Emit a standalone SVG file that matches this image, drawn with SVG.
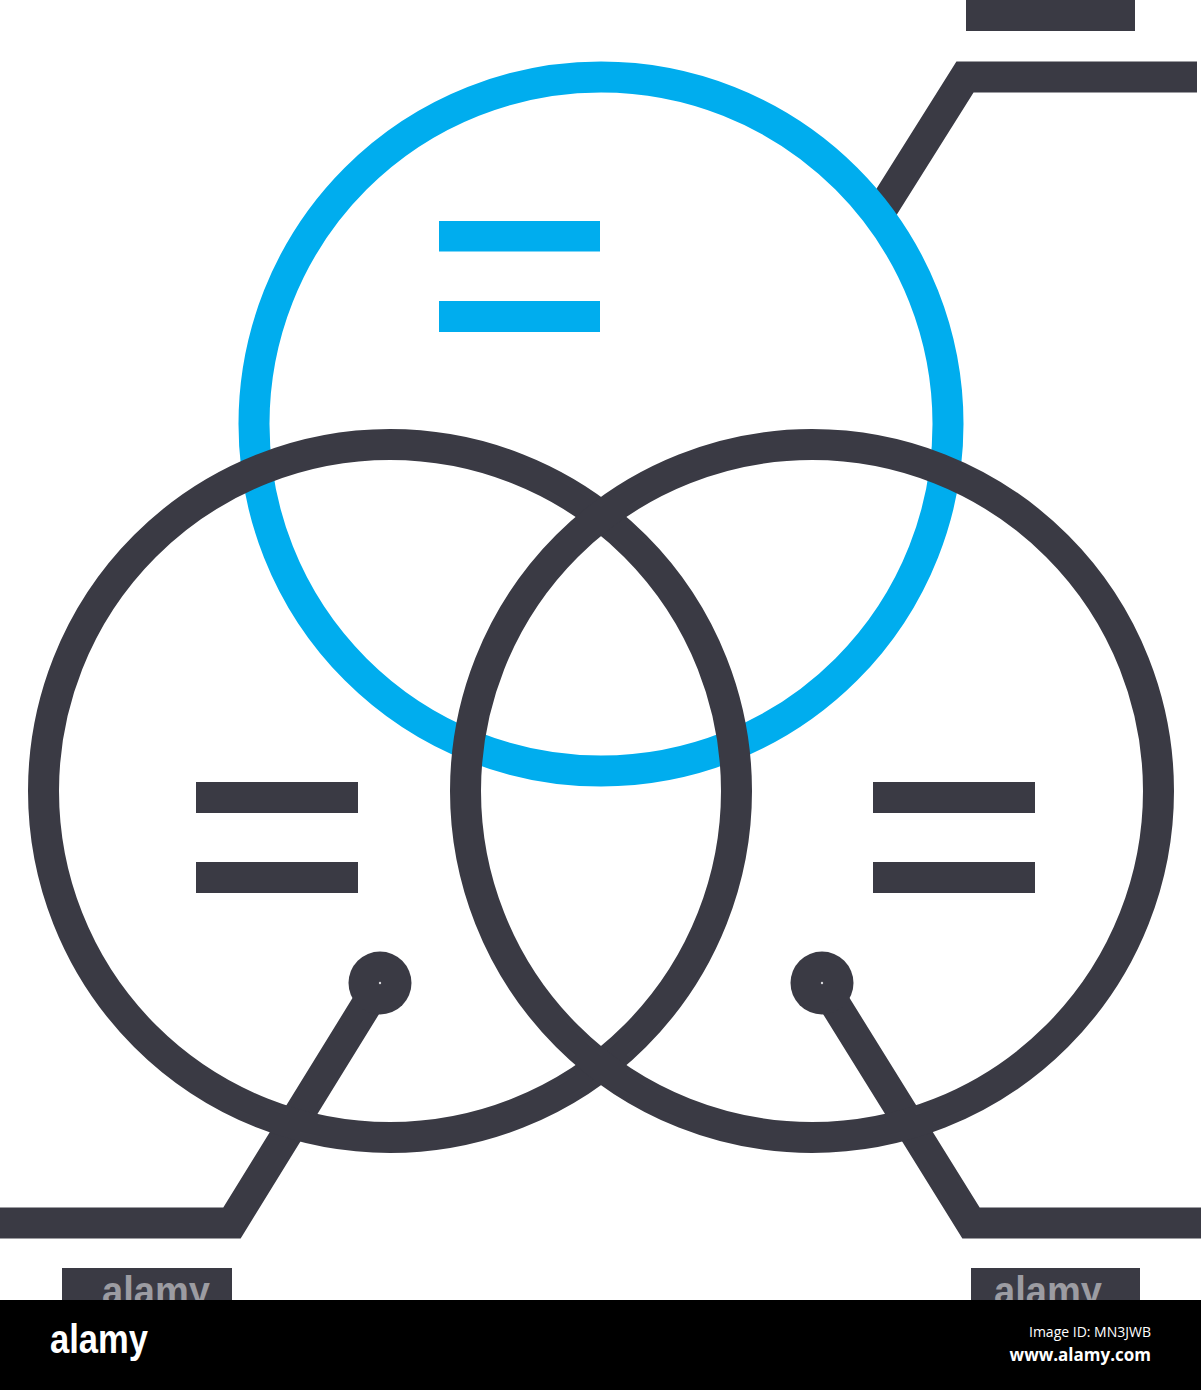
<svg xmlns="http://www.w3.org/2000/svg" width="1201" height="1390" viewBox="0 0 1201 1390">
  <defs>
    <style>
      .dk { fill: none; stroke: #3a3a44; stroke-width: 31; }
      .bl { fill: none; stroke: #00adee; stroke-width: 31; }
      .conn { fill: none; stroke: #3a3a44; stroke-width: 31; stroke-linejoin: miter; stroke-miterlimit: 10; stroke-linecap: butt; }
      .bar { fill: #3a3a44; }
      .barb { fill: #00adee; }
      .dot { fill: #3a3a44; }
      .wm { font-family: "Liberation Sans", Arial, sans-serif; font-weight: bold; fill: #9c9ca2; }
    </style>
    <clipPath id="clipL"><rect x="62" y="1268" width="170" height="32"/></clipPath>
    <clipPath id="clipR"><rect x="971" y="1268" width="169" height="32"/></clipPath>
  </defs>
  <rect x="0" y="0" width="1201" height="1390" fill="#ffffff"/>

  <g id="connectors">
    <polyline class="conn" points="877,217 965,77 1197,77"/>
    <polyline class="conn" points="380,983 232,1223 0,1223"/>
    <polyline class="conn" points="822,983 971,1223 1201,1223"/>
  </g>

  <g id="circle-top">
    <circle class="bl" cx="601" cy="424" r="347"/>
    <rect class="barb" x="439" y="221" width="161" height="30.5"/>
    <rect class="barb" x="439" y="301" width="161" height="31"/>
  </g>

  <g id="circle-left">
    <circle class="dk" cx="390" cy="791" r="346.5"/>
    <rect class="bar" x="196" y="782" width="162" height="31"/>
    <rect class="bar" x="196" y="862" width="162" height="31"/>
  </g>

  <g id="circle-right">
    <circle class="dk" cx="812" cy="791" r="346.5"/>
    <rect class="bar" x="873" y="782" width="162" height="31"/>
    <rect class="bar" x="873" y="862" width="162" height="31"/>
  </g>

  <g id="dot-left">
    <circle class="dot" cx="380" cy="983" r="31.5"/>
    <circle cx="380" cy="983" r="1.2" fill="#d8d8dc"/>
  </g>
  <g id="dot-right">
    <circle class="dot" cx="822" cy="983" r="31.5"/>
    <circle cx="822" cy="983" r="1.2" fill="#d8d8dc"/>
  </g>

  <g id="label-top-right">
    <rect class="bar" x="966" y="0" width="169" height="31"/>
  </g>
  <g id="label-bottom-left">
    <rect class="bar" x="62" y="1268" width="170" height="32"/>
    <text class="wm" x="102" y="1305" font-size="40" textLength="108" lengthAdjust="spacingAndGlyphs" clip-path="url(#clipL)">alamy</text>
  </g>
  <g id="label-bottom-right">
    <rect class="bar" x="971" y="1268" width="169" height="32"/>
    <text class="wm" x="994" y="1305" font-size="40" textLength="108" lengthAdjust="spacingAndGlyphs" clip-path="url(#clipR)">alamy</text>
  </g>

  <g id="footer">
    <rect x="0" y="1300" width="1201" height="90" fill="#000000"/>
    <text x="50" y="1353" font-family="Liberation Sans, Arial, sans-serif" font-weight="bold" font-size="40" fill="#ffffff" textLength="98" lengthAdjust="spacingAndGlyphs">alamy</text>
    <text x="1151" y="1337" font-family="Open Sans, Noto Sans, sans-serif" font-size="14" fill="#ffffff" text-anchor="end">Image ID: MN3JWB</text>
    <text x="1151" y="1361" font-family="Open Sans, Noto Sans, sans-serif" font-weight="bold" font-size="17" fill="#ffffff" text-anchor="end">www.alamy.com</text>
  </g>
</svg>
